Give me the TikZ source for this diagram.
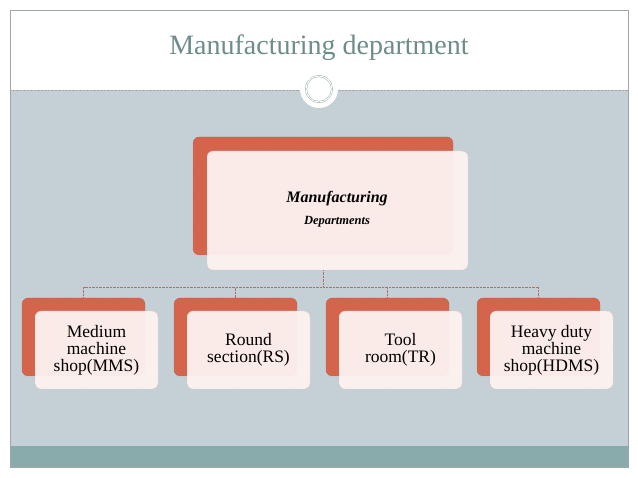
\documentclass[tikz,border=0pt]{standalone}
\usepackage{fontspec}
\setmainfont{Liberation Serif}
\usetikzlibrary{positioning}
\definecolor{slidegray}{HTML}{C5D0D6}
\definecolor{slideteal}{HTML}{8AABAB}
\definecolor{titlecol}{HTML}{6E8C8C}
\definecolor{boxred}{HTML}{D5644C}
\definecolor{boxpink}{HTML}{FDF3F1}
\tikzset{
  back/.style={draw=boxred!70!black, densely dotted, fill=boxred, rounded corners=6pt, minimum width=#1},
  front/.style={draw=boxred!60, densely dotted, fill=boxpink, fill opacity=.95, text opacity=1, rounded corners=6pt, align=center, font=\fontsize{17.5}{17}\selectfont, text=black},
  link/.style={draw=boxred!60!gray, densely dotted, thin}
}
\newcommand{\child}[3]{
  \node[back=123pt, minimum height=78pt] (b#1) at (#2+61.5, 337) {};
  \node[front, minimum width=123pt, minimum height=78pt] (f#1) at (#2+74.5, 350) {#3};
}
\begin{document}
\begin{tikzpicture}[x=1pt, y=-1pt]
  \useasboundingbox (0,0) rectangle (638,478);
  % slide
  \fill[white] (0,0) rectangle (638,478);
  \fill[slidegray] (10,90) rectangle (628,446);
  \fill[slideteal] (10,446) rectangle (628,467);
  \draw[slidegray!80!black, thin] (10,10) rectangle (628,467);
  \draw[gray!70, densely dotted] (10,90) -- (628,90);
  \node[font=\fontsize{28}{28}\selectfont, text=titlecol] (title) at (319,48) {Manufacturing department};
  \fill[white] (319,89) circle (19);
  \draw[titlecol!80, double=white, double distance=1pt] (319,89) circle (13);
  % top box
  \node[back=260pt, minimum height=118pt] (btop) at (323,196) {};
  \node[front, minimum width=261pt, minimum height=119pt] (ftop) at (337.5,210.5) {};
  \node[font=\fontsize{16}{16}\selectfont\bfseries\itshape] (mfg) at (337,199) {Manufacturing};
  \node[font=\fontsize{12.5}{12}\selectfont\bfseries\itshape, below=3pt of mfg] (dep) {Departments};
  % children
  \child{1}{22}{Medium\\machine\\shop(MMS)}
  \child{2}{174}{Round\\section(RS)}
  \child{3}{326}{Tool\\room(TR)}
  \child{4}{477}{Heavy duty\\machine\\shop(HDMS)}
  \coordinate (bus) at (323,287);
  \draw[link] (ftop.south -| bus) -- (bus);
  \foreach \i in {1,...,4}
    \draw[link] (bus) -| (b\i.north);
\end{tikzpicture}
\end{document}
